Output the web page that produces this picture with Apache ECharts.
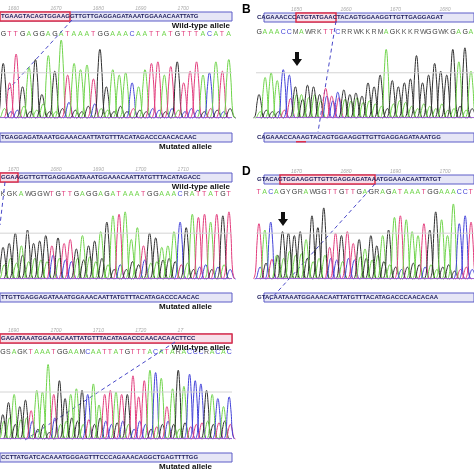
<!DOCTYPE html>
<html><head><meta charset="utf-8">
<script src="https://cdn.jsdelivr.net/npm/echarts@6/dist/echarts.min.js"></script>
<style>html,body{margin:0;background:#fff}#c{width:474px;height:474px}</style>
</head><body><div id="c"></div>
<script>
// base calls and main peak heights (0-100) per panel
const seqA = 'GTTGAGGAGATAAATGGAAACAATTATGTTTACATA';
const hA = [70,45,82,40,65,75,30,80,60,100,55,70,62,68,50,88,40,62,55,58,45,40,62,70,72,55,66,72,45,60,72,55,58,72,60,75];
const subA = [12,8,10,15,8,10,18,8,8,12,20,10,8,15,18,12,10,8,15,8,12,10,8,12,10,8,12,10,8,12,10,8,12,10,8,12];
const seqB = 'GAAACCMAWRKTTCRRWKKRMAGKKKRWGGWKGAGA';
const hB = [30,52,58,48,62,55,40,30,42,40,30,38,28,33,36,30,32,28,45,40,55,88,48,40,45,50,80,45,55,70,60,55,88,72,90,60];
const subB = [8,10,8,8,10,25,30,24,26,30,22,28,22,26,24,22,26,20,22,18,15,12,18,22,20,15,12,18,15,12,18,10,12,15,10,12];
const seqC = 'KGKAWGGWTGTTGAGGAGATAAATGGAAACRATTATGT';
const hC = [40,45,58,42,62,45,48,55,42,52,45,50,38,55,42,48,60,72,80,82,85,50,65,42,58,52,40,42,60,72,65,82,78,82,72,82,80,85];
const subC = [18,26,20,30,22,26,24,22,30,26,24,22,26,24,28,22,26,18,12,18,12,22,18,24,20,22,24,26,22,18,20,12,15,18,12,15,18,12];
const seqD = 'TACAGYGRAWGGTTGTTGAGRAGATAAATGGAAACCT';
const hD = [70,62,72,30,60,58,55,60,50,80,65,90,40,58,55,60,45,50,38,55,42,55,62,78,80,75,60,55,70,62,85,75,55,95,70,80,72];
const subD = [15,20,25,30,26,35,30,32,26,22,26,30,26,24,22,26,24,28,26,24,30,22,18,15,12,15,20,18,15,18,12,15,18,10,12,15,12];
const seqE = 'GSAGKTAAATGGAAMCAATTATGTTTACATARACCCRACAC';
const hE = [30,45,55,40,48,35,60,58,92,55,72,50,55,62,60,55,68,42,55,60,58,55,55,78,52,72,85,82,75,40,62,85,65,80,72,68,60,55,50,40,52];
const subE = [22,26,18,24,26,22,12,18,8,26,18,22,26,22,18,24,18,26,22,18,20,22,18,12,22,18,12,15,18,22,18,12,20,15,18,20,22,18,20,22,18];
const ticksA = ['1660','1670','1680','1690','1700'];
const ticksB = ['1650','1660','1670','1680'];
const ticksC = ['1670','1680','1690','1700','1710'];
const ticksD = ['1670','1680','1690','1700'];
const ticksE = ['1690','1700','1710','1720','17'];
const topA = 'TGAAGTACAGTGGAAGGTTGTTGAGGAGATAAATGGAAACAATTATG';
const botA = 'TGAGGAGATAAATGGAAACAATTATGTTTACATAGACCCAACACAAC';
const topB = 'CAGAAACCCATGTATGAACTACAGTGGAAGGTTGTTGAGGAGAT';
const botB = 'CAGAAACCAAAGTACAGTGGAAGGTTGTTGAGGAGATAAATGG';
const topC = 'GGAAGGTTGTTGAGGAGATAAATGGAAACAATTATGTTTACATAGACC';
const botC = 'TTGTTGAGGAGATAAATGGAAACAATTATGTTTACATAGACCCAACAC';
const topD = 'GTACAGTGGAAGGTTGTTGAGGAGATAAATGGAAACAATTATGT';
const botD = 'GTACAATAAATGGAAACAATTATGTTTACATAGACCCAACACAA';
const topE = 'GAGATAAATGGAAACAATTATGTTTACATAGACCCAACACAACTTCC';
const botE = 'CCTTATGATCACAAATGGGAGTTTCCCAGAAACAGGCTGAGTTTTGG';

const COL = {A:'#6fd44a',C:'#4242d8',G:'#2e2e2e',T:'#e23c7c'};
const amb = 'MRWSYKN';
function baseCol(b){ return COL[b] || '#303030'; }
const other = {A:'G',C:'T',G:'A',T:'C'};

const panels = [
  {seq:seqA,h:hA,s:subA,l:0,w:232,t:40,ht:78,ticks:ticksA,top:topA,bot:botA,barT:12,barB:133,wt:true,red:[0,70]},
  {seq:seqB,h:hB,s:subB,l:256,w:218,t:40,ht:78,ticks:ticksB,top:topB,bot:botB,barT:13,barB:133,label:'B',red:[40,80],redB:[40,50]},
  {seq:seqC,h:hC,s:subC,l:0,w:232,t:200,ht:79,ticks:ticksC,top:topC,bot:botC,barT:173,barB:293,wt:true,red:[0,18]},
  {seq:seqD,h:hD,s:subD,l:256,w:218,t:200,ht:79,ticks:ticksD,top:topD,bot:botD,barT:175,barB:293,label:'D',red:[24,119]},
  {seq:seqE,h:hE,s:subE,l:0,w:232,t:358,ht:81,ticks:ticksE,top:topE,bot:botE,barT:334,barB:453,wt:true,red:[0,232]}
];

const grid=[],xAxis=[],yAxis=[],series=[],graphic=[];
panels.forEach((p,i)=>{
  const n=p.seq.length;
  grid.push({left:p.l,top:p.t,width:p.w,height:p.ht});
  xAxis.push({gridIndex:i,type:'value',min:-0.5,max:n-0.5,show:false});
  yAxis.push({gridIndex:i,type:'value',min:0,max:100,show:false,splitLine:{show:false}});
  const data=[];
  p.seq.split('').forEach((b,k)=>{
    const main = COL[b]?b:'G';
    data.push([k+0.2,p.s[k],baseCol(other[main])]);
    data.push([k,p.h[k],baseCol(main)]);
  });
  series.push({type:'custom',xAxisIndex:i,yAxisIndex:i,data:data,silent:true,
    renderItem:(params,api)=>{
      const x=api.value(0),h=api.value(1),c=data[params.dataIndex][2];
      const pts=[[x-0.9,0],[x-0.6,h*0.12],[x-0.3,h*0.7],[x,h],[x+0.3,h*0.7],[x+0.6,h*0.12],[x+0.9,0]].map(q=>api.coord(q));
      return {type:'polyline',shape:{points:pts,smooth:0.5},style:{stroke:c,fill:null,lineWidth:1}};
    }});
  // grey mid line and baseline
  series.push({type:'line',xAxisIndex:i,yAxisIndex:i,data:[[-0.5,58],[n-0.5,58]],symbol:'none',silent:true,
    lineStyle:{color:'#d4d4d4',width:1}});
  series.push({type:'line',xAxisIndex:i,yAxisIndex:i,data:[[-0.5,0.5],[n-0.5,0.5]],symbol:'none',silent:true,
    lineStyle:{color:'#9a5ad0',width:1}});
  // base call letters
  const cw=p.w/n;
  p.seq.split('').forEach((b,k)=>{
    graphic.push({type:'text',left:p.l+k*cw+cw/2-2.5,top:p.t-(p.wt?9:11),
      style:{text:b,fill:amb.includes(b)?'#555':baseCol(b),font:'7px Liberation Sans'}});
  });
  // sequence bars
  const x0=p.l+(p.label?8:0), bw=p.w-(p.label?8:0);
  [[p.barT,p.top],[p.barB,p.bot]].forEach(([y,s])=>{
    graphic.push({type:'rect',shape:{x:x0,y:y,width:bw,height:9},
      style:{fill:'#e6e6f6',stroke:'#5c5cc8',lineWidth:1}});
  });
  if(p.red) graphic.push({type:'rect',shape:{x:p.l+p.red[0],y:p.barT,width:p.red[1]-p.red[0],height:9},style:{fill:'#f6e0ea',stroke:'#e0304a',lineWidth:1.5}});
  if(p.redB) graphic.push({type:'rect',shape:{x:p.l+p.redB[0],y:p.barB+8,width:p.redB[1]-p.redB[0],height:1.5},style:{fill:'#e0304a'}});
  [[p.barT,p.top],[p.barB,p.bot]].forEach(([y,s])=>{
    graphic.push({type:'text',left:p.l+1,top:y+1.5,
      style:{text:s,fill:'#1c1c5a',font:'bold 6px Liberation Sans',width:p.w-2,overflow:'truncate',ellipsis:''}});
  });
  // tick labels
  p.ticks.forEach((t,k)=>{
    graphic.push({type:'text',left:p.l+(p.label?35:8)+k*(p.w-20)/p.ticks.length,top:p.barT-6,
      style:{text:t,fill:'#aaa',font:'italic 5px Liberation Sans'}});
  });
  if(p.wt){
    graphic.push({type:'text',right:474-p.l-p.w+2,top:p.barT+10,style:{text:'Wild-type allele',fill:'#111',font:'bold 8px Liberation Sans'}});
    graphic.push({type:'text',right:474-p.l-p.w+20,top:p.barB+10,style:{text:'Mutated allele',fill:'#111',font:'bold 8px Liberation Sans'}});
  }
  if(p.label) graphic.push({type:'text',left:p.l-14,top:p.barT-9,style:{text:p.label,fill:'#000',font:'bold 12px Liberation Sans'}});
});
const dash=[[72,20,8,90],[336,21,318,132],[5,182,0,225],[375,184,270,300],[175,342,25,440]];
dash.forEach(d=>graphic.push({type:'line',shape:{x1:d[0],y1:d[1],x2:d[2],y2:d[3]},style:{stroke:'#4848c8',lineWidth:1,lineDash:[4,3]}}));
// arrows
[[297,52],[283,212]].forEach(a=>{
  graphic.push({type:'polygon',shape:{points:[[a[0]-2,a[1]],[a[0]+2,a[1]],[a[0]+2,a[1]+7],[a[0]+5,a[1]+7],[a[0],a[1]+14],[a[0]-5,a[1]+7],[a[0]-2,a[1]+7]]},style:{fill:'#111'}});
});
const chart=echarts.init(document.getElementById('c'));
chart.setOption({animation:false,grid,xAxis,yAxis,series,graphic});
</script></body></html>
